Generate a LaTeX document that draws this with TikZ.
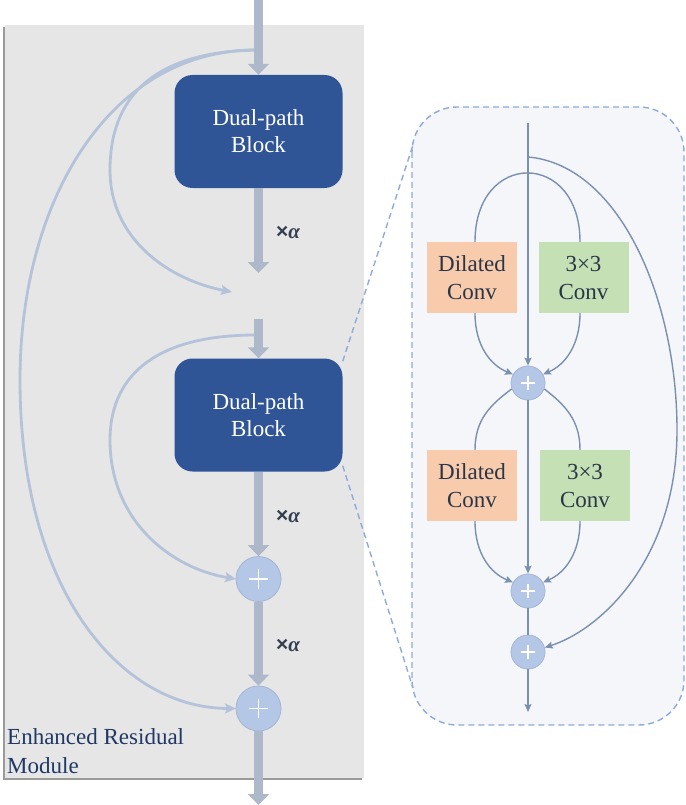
\documentclass[tikz,border=0pt]{standalone}
\usepackage{fontspec}
\setmainfont{LiberationSerif}[Extension=.ttf, UprightFont=*-Regular, BoldFont=*-Bold, ItalicFont=*-Italic, BoldItalicFont=*-BoldItalic]
\setsansfont{Liberation Sans}
\usetikzlibrary{arrows.meta}
\definecolor{panelgray}{HTML}{E6E6E6}
\definecolor{panelshadow}{HTML}{9A9A9A}
\definecolor{blockblue}{HTML}{2F5597}
\definecolor{trunk}{HTML}{ADB9CA}
\definecolor{skip}{HTML}{B4C3DA}
\definecolor{addfill}{HTML}{B4C7E7}
\definecolor{addline}{HTML}{A3B5D3}
\definecolor{dashblue}{HTML}{8EAADB}
\definecolor{rpanel}{HTML}{F4F6F9}
\definecolor{rline}{HTML}{7B8FAE}
\definecolor{dilfill}{HTML}{F8CBAD}
\definecolor{convfill}{HTML}{C5E0B4}
\definecolor{txtdark}{HTML}{2A3546}
\definecolor{labelblue}{HTML}{203864}
\definecolor{alphatxt}{HTML}{333F50}
\begin{document}
\begin{tikzpicture}[x=1pt,y=-1pt,
  block/.style={fill=blockblue, rounded corners=18pt, minimum width=168pt, minimum height=113pt,
    text=white, align=center, font=\fontsize{23}{27}\selectfont, inner sep=0pt},
  addop/.style={circle, fill=addfill, draw=addline, line width=0.8pt, minimum size=#1, inner sep=0pt,
    path picture={\draw[white, line width=1.3pt]
      ([xshift=-0.22*#1]path picture bounding box.center) -- ([xshift=0.22*#1]path picture bounding box.center)
      ([yshift=-0.22*#1]path picture bounding box.center) -- ([yshift=0.22*#1]path picture bounding box.center);}},
  trunkarrow/.style={draw=trunk, line width=9pt, -{Triangle[width=21pt,length=11pt]}},
  skiparrow/.style={draw=skip, line width=2.8pt, line cap=round, -{Stealth[length=11pt,width=10pt,inset=2pt]}},
  thinarrow/.style={draw=rline, line width=1.4pt, -{Stealth[length=8pt,width=7pt,inset=1.5pt]}},
  thinline/.style={draw=rline, line width=1.4pt},
  convbox/.style={minimum width=90pt, minimum height=71pt, inner sep=0pt, align=center,
    text=txtdark, font=\fontsize{23}{28}\selectfont},
  zoomline/.style={draw=dashblue, line width=1.4pt, dash pattern=on 6pt off 4pt},
  alphalabel/.style={text=alphatxt, font=\fontsize{21}{22}\selectfont, inner sep=0pt}
]
\useasboundingbox (0,0) rectangle (685,805);
% left panel
\fill[panelshadow] (3,27) rectangle (362,780);
\fill[panelgray] (5,25) rectangle (364,778);
% right panel
\draw[zoomline, fill=rpanel, rounded corners=45pt] (412,107) rectangle (684,725);

\coordinate (top) at (258.5,0);
\coordinate (gapa) at (258.5,273);
\coordinate (gapb) at (258.5,319);
\coordinate (bot) at (258.5,805);
\coordinate (fork1) at (256,50);
\coordinate (fork2) at (256,335);
\coordinate (skipend) at (232,292);

% skip curves
\draw[skiparrow] (fork1) .. controls (110,50) and (20,200) .. (20,380)
  .. controls (20,590) and (120,708) .. (236,708.5);
\draw[skiparrow] (fork1) .. controls (150,52) and (110,100) .. (110,170)
  .. controls (110,240) and (170,280) .. (skipend);
\draw[skiparrow] (fork2) .. controls (150,335) and (110,380) .. (110,440)
  .. controls (110,520) and (170,568) .. (236,579);

% trunk
\node[block] (b1) at (258.5,131.5) {Dual-path\\Block};
\node[block] (b2) at (258.5,415) {Dual-path\\Block};
\node[addop=45pt] (c1) at (258.5,579) {};
\node[addop=45pt] (c2) at (258.5,708.5) {};
\draw[trunkarrow] (top) -- (b1.north);
\draw[trunkarrow] (b1.south) -- (gapa);
\draw[trunkarrow] (gapb) -- (b2.north);
\draw[trunkarrow] (b2.south) -- (c1.north);
\draw[trunkarrow] (c1.south) -- (c2.north);
\draw[trunkarrow] (c2.south) -- (bot);

\node[alphalabel] (a1) at (288,232) {{\sffamily\bfseries ×}{\bfseries\itshape α}};
\node[alphalabel] (a2) at (288,516) {{\sffamily\bfseries ×}{\bfseries\itshape α}};
\node[alphalabel] (a3) at (288,645) {{\sffamily\bfseries ×}{\bfseries\itshape α}};

\node[anchor=north west, align=left, text=labelblue, inner sep=0pt,
  font=\fontsize{23}{29}\selectfont] (lbl) at (7,728) {Enhanced Residual\\Module};

% zoom lines
\coordinate (zt) at (413,145);
\coordinate (zb) at (413,688);
\draw[zoomline] ([yshift=-3pt]b2.north east) -- (zt);
\draw[zoomline] ([yshift=6pt]b2.south east) -- (zb);

% right detail
\node[convbox, fill=dilfill] (d1) at (472,277.5) {Dilated\\Conv};
\node[convbox, fill=convfill] (k1) at (583.5,277.5) {3×3\\Conv};
\node[convbox, fill=dilfill] (d2) at (472,485.5) {Dilated\\Conv};
\node[convbox, fill=convfill] (k2) at (585,485.5) {3×3\\Conv};
\node[addop=34pt] (r1) at (528,383) {};
\node[addop=34pt] (r2) at (528,591) {};
\node[addop=34pt] (r3) at (528,652) {};
\coordinate (rin) at (528,123);
\coordinate (rfork) at (528,157);
\coordinate (rout) at (528,712);

\draw[thinarrow] (rin) -- (r1.north);
\draw[thinarrow] (r1.south) -- (r2.north);
\draw[thinline] (r2.south) -- (r3.north);
\draw[thinarrow] (r3.south) -- (rout);

\draw[thinline] ([xshift=3pt]d1.north) .. controls (475,150) and (580,150) .. ([xshift=-3.5pt]k1.north);
\draw[thinarrow] ([xshift=3pt]d1.south) .. controls (475,345) and (490,365) .. (r1.150);
\draw[thinarrow] ([xshift=-3.5pt]k1.south) .. controls (580,345) and (565,365) .. (r1.30);

\draw[thinline] (r1.200) .. controls (490,405) and (475,420) .. ([xshift=3pt]d2.north);
\draw[thinline] (r1.-20) .. controls (565,405) and (580,420) .. ([xshift=-5pt]k2.north);
\draw[thinarrow] ([xshift=3pt]d2.south) .. controls (475,553) and (490,573) .. (r2.150);
\draw[thinarrow] ([xshift=-5pt]k2.south) .. controls (580,553) and (565,573) .. (r2.30);

\draw[thinarrow] (rfork) .. controls (620,165) and (677,300) .. (677,430)
  .. controls (677,560) and (600,630) .. (r3.15);
\end{tikzpicture}
\end{document}
